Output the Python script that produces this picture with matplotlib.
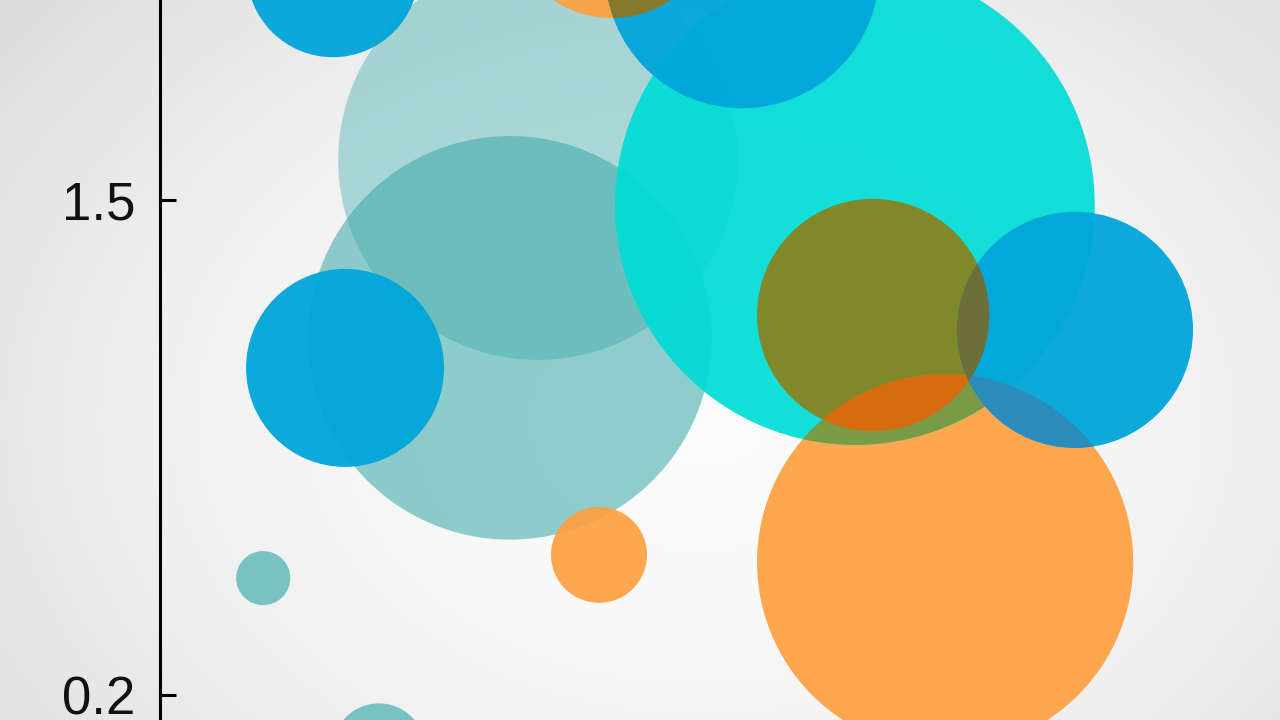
import numpy as np
import matplotlib
matplotlib.use("Agg")
import matplotlib.pyplot as plt
from matplotlib.patches import Circle

# ---------------- data ----------------
bubble_x = [0.454, 1.187, 0.993, 0.919, 1.825, 1.529, 1.873, 2.403, 0.486, 2.062, 1.153, 0.271, 0.575]
bubble_y = [2.101, 2.256, 1.605, 1.138, 1.487, 2.101, 1.198, 1.159, 1.059, 0.549, 0.568, 0.507, 0.056]
bubble_r = [0.226, 0.278, 0.525, 0.530, 0.630, 0.360, 0.305, 0.310, 0.260, 0.494, 0.126, 0.071, 0.122]
bubble_group = ["blue", "orange", "teal_light", "teal", "cyan", "blue", "olive",
                "blue", "blue", "orange", "orange", "teal_small", "teal_small"]
y_ticks = [0.2, 1.5]
y_tick_labels = ["0.2", "1.5"]

# ---------------- styles ----------------
group_style = {
    "blue": ("#00a5da", 0.95),
    "orange": ("#ffa040", 0.92),
    "teal_light": ("#3baaaa", 0.40),
    "teal": ("#3baaaa", 0.56),
    "teal_small": ("#3baaaa", 0.66),
    "cyan": ("#00dcd5", 0.92),
    "olive": ("#80882a", 1.0),
}
draw_order = [2, 3, 11, 12, 0, 8, 10, 9, 4, 1, 5, 6, 7]
# blended overlap tints: (bubble, clipped to bubble, colour)
overlaps = [(9, 4, "#789c46"), (6, 9, "#d86a10"), (1, 5, "#857a2c"),
            (7, 9, "#2a8cbc"), (7, 6, "#6e6e38")]

W, H, DPI = 1280, 720, 100
fig = plt.figure(figsize=(W / DPI, H / DPI), dpi=DPI)

# radial grey background
bg = fig.add_axes([0, 0, 1, 1], zorder=-10)
yy, xx = np.mgrid[0:H, 0:W]
d = np.sqrt(((xx - 700) / 760.0) ** 2 + ((yy - 420) / 560.0) ** 2)
val = 0.985 - 0.09 * np.clip(d, 0, 1.3) ** 2
bg.imshow(np.dstack([val, val, val]), aspect="auto", extent=[0, 1, 0, 1])
bg.set_axis_off()

k = 0.0026263  # data units per pixel
ax = fig.add_axes([160 / W, 0, (W - 160) / W, 1])
ax.patch.set_alpha(0)
ax.set_xlim(0, (W - 160) * k)
ax.set_ylim(1.5 - 520 * k, 1.5 + 200 * k)

patches = {}
for z, i in enumerate(draw_order):
    col, a = group_style[bubble_group[i]]
    c = Circle((bubble_x[i], bubble_y[i]), bubble_r[i], facecolor=col, alpha=a,
               edgecolor="none", zorder=2 + z * 0.1)
    ax.add_patch(c)
    patches[i] = c

for n, (i, j, col) in enumerate(overlaps):
    c = Circle((bubble_x[i], bubble_y[i]), bubble_r[i], facecolor=col,
               edgecolor="none", zorder=4 + n * 0.1)
    ax.add_patch(c)
    clip = Circle((bubble_x[j], bubble_y[j]), bubble_r[j], transform=ax.transData)
    c.set_clip_path(clip)

for s in ["top", "right", "bottom"]:
    ax.spines[s].set_visible(False)
ax.spines["left"].set_linewidth(2.2)
ax.spines["left"].set_color("black")
ax.spines["left"].set_zorder(10)
ax.set_xticks([])
ax.set_yticks(y_ticks)
ax.set_yticklabels(y_tick_labels, fontfamily="Liberation Sans", fontsize=38, color="#111111")
ax.tick_params(axis="y", direction="in", length=11.5, width=2.2, pad=18, color="black")

fig.savefig("out.png", dpi=DPI)
